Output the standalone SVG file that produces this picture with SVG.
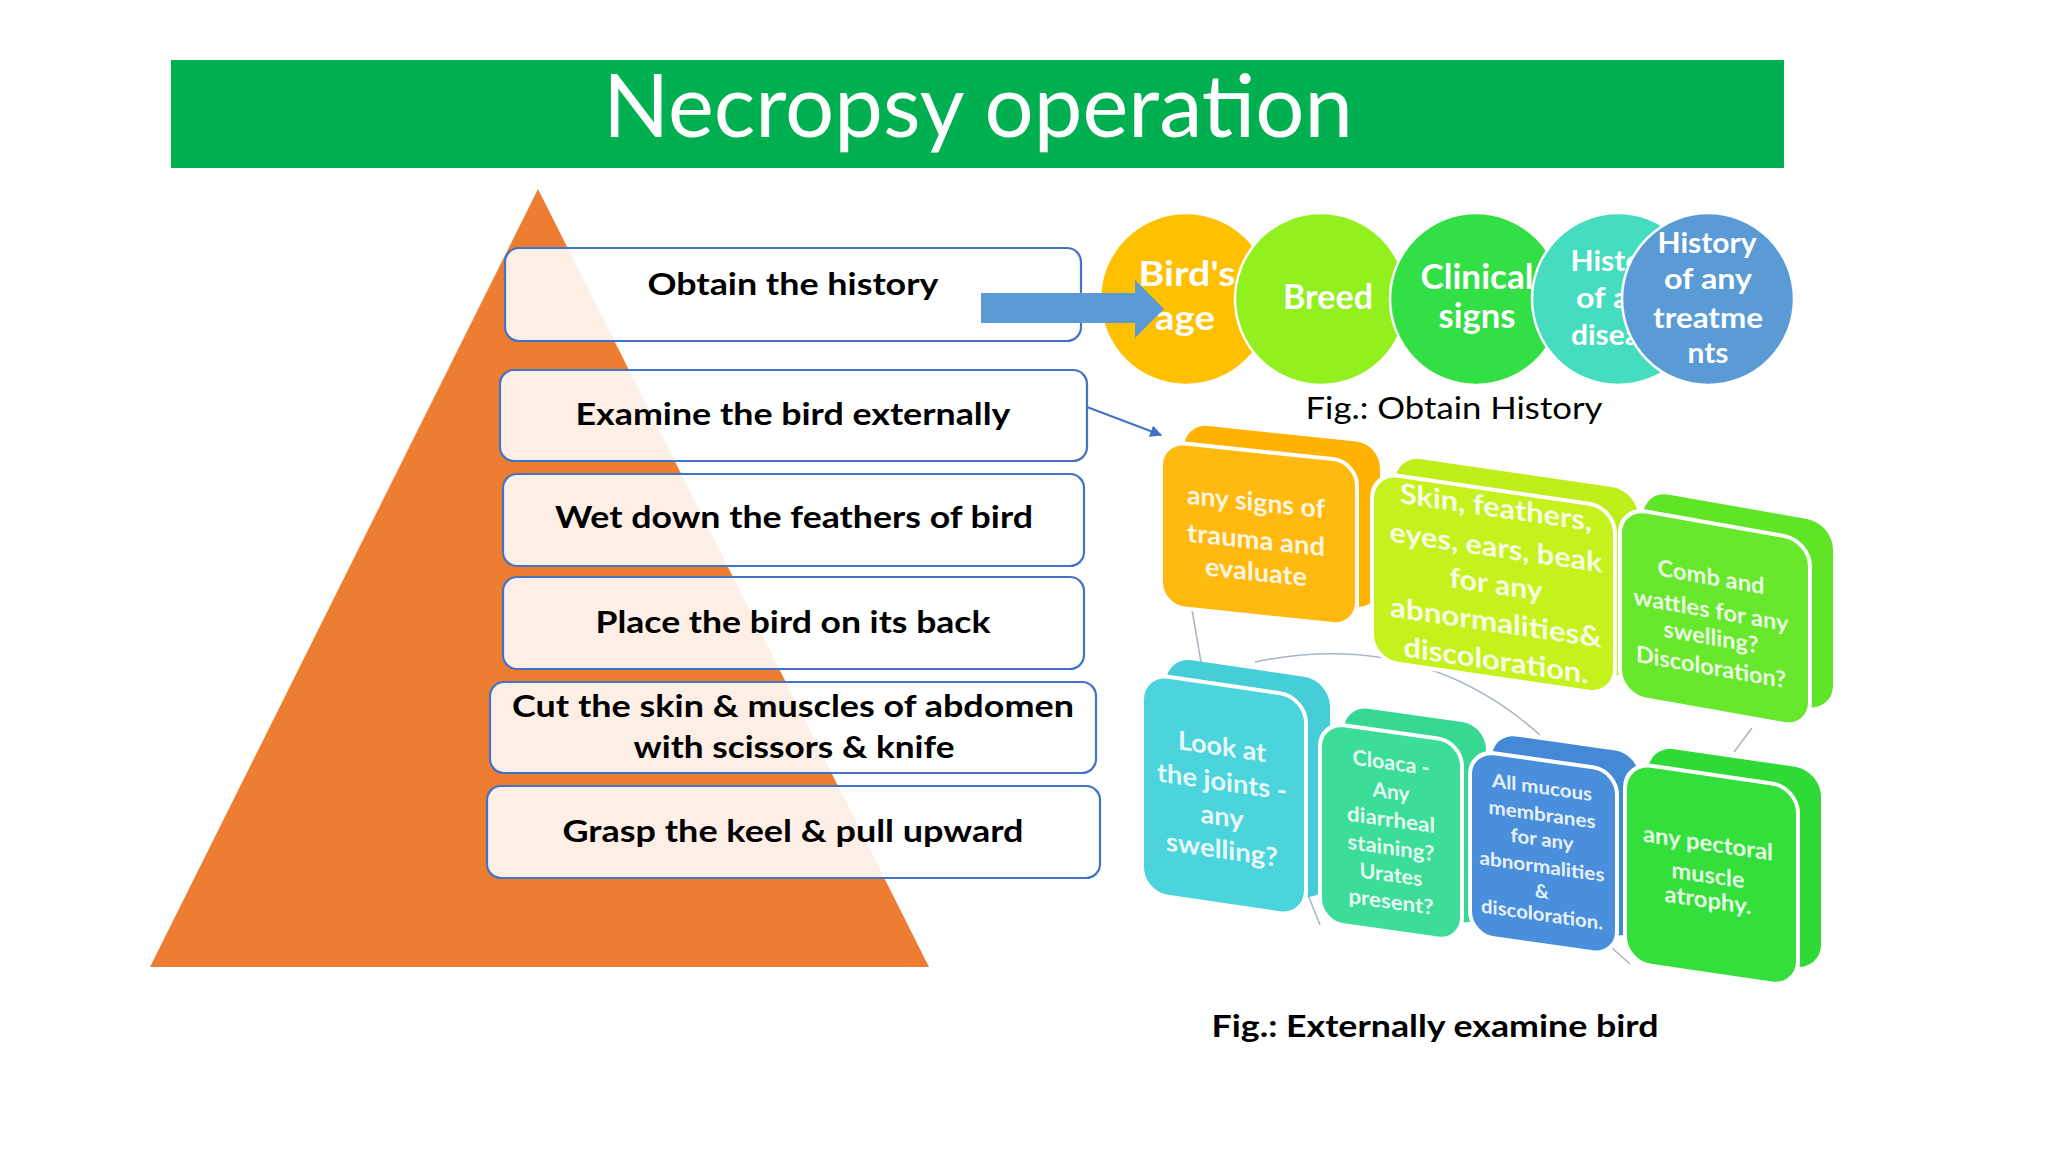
<svg xmlns="http://www.w3.org/2000/svg" width="2048" height="1152" viewBox="0 0 2048 1152">
<style>
.f{font-family:Lato,"Liberation Sans",sans-serif}
.box{fill:#fff;fill-opacity:.88;stroke:#4472C4;stroke-width:2.2}
.bt{font-family:Lato,"Liberation Sans",sans-serif;font-weight:700;font-size:31px;fill:#000;text-anchor:middle}
.ct{font-family:Lato,"Liberation Sans",sans-serif;font-weight:700;fill:#fff;text-anchor:middle}
.circ{stroke:#fff;stroke-width:2.5}
.front{stroke:#fff;stroke-width:4}
.tt{font-family:Lato,"Liberation Sans",sans-serif;font-weight:700;fill:#fff;fill-opacity:.9;text-anchor:middle}
.faint{fill:none;stroke:#A9B4C4;stroke-width:1.5}
</style>
<defs>
<marker id="ah" viewBox="0 0 10 10" refX="9" refY="5" markerWidth="6" markerHeight="6" orient="auto" markerUnits="strokeWidth">
<path d="M0,0 L10,5 L0,10 Z" fill="#4472C4"/>
</marker>
</defs>
<rect width="2048" height="1152" fill="#fff"/>

<g id="title">
<rect x="171" y="60" width="1613" height="108" fill="#00B050"/>
<text class="f" x="978" y="137" font-size="88" fill="#fff" text-anchor="middle" textLength="750" lengthAdjust="spacingAndGlyphs">Necropsy operation</text>
</g>

<g id="pyramid">
<polygon points="538,189 929,967 150,967" fill="#ED7D31"/>
</g>

<g id="step1"><rect class="box" x="505" y="248" width="576" height="93" rx="14"/><text class="bt" x="793" y="295" textLength="291" lengthAdjust="spacingAndGlyphs">Obtain the history</text></g>
<g id="step2"><rect class="box" x="500" y="370" width="587" height="91" rx="14"/><text class="bt" x="793" y="425" textLength="435" lengthAdjust="spacingAndGlyphs">Examine the bird externally</text></g>
<g id="step3"><rect class="box" x="503" y="474" width="581" height="92" rx="14"/><text class="bt" x="794" y="528" textLength="478" lengthAdjust="spacingAndGlyphs">Wet down the feathers of bird</text></g>
<g id="step4"><rect class="box" x="503" y="577" width="581" height="92" rx="14"/><text class="bt" x="793" y="633" textLength="395" lengthAdjust="spacingAndGlyphs">Place the bird on its back</text></g>
<g id="step5"><rect class="box" x="490" y="682" width="606" height="91" rx="14"/><text class="bt" x="793" y="717" textLength="562" lengthAdjust="spacingAndGlyphs">Cut the skin &amp; muscles of abdomen</text><text class="bt" x="794" y="758" textLength="321" lengthAdjust="spacingAndGlyphs">with scissors &amp; knife</text></g>
<g id="step6"><rect class="box" x="487" y="786" width="613" height="92" rx="14"/><text class="bt" x="793" y="842" textLength="461" lengthAdjust="spacingAndGlyphs">Grasp the keel &amp; pull upward</text></g>

<g id="history-circles">
<g id="c-age"><circle class="circ" cx="1186" cy="299" r="86" fill="#FFC000"/><text class="ct" x="1187" y="286" font-size="34" textLength="97" lengthAdjust="spacingAndGlyphs">Bird's</text><text class="ct" x="1185" y="330" font-size="34" textLength="60" lengthAdjust="spacingAndGlyphs">age</text></g>
<g id="c-breed"><circle class="circ" cx="1321" cy="299" r="86" fill="#92F01F"/><text class="ct" x="1328" y="309" font-size="34" textLength="90" lengthAdjust="spacingAndGlyphs">Breed</text></g>
<g id="c-clinical"><circle class="circ" cx="1476" cy="299" r="86" fill="#32E046"/><text class="ct" x="1477" y="289" font-size="34" textLength="113" lengthAdjust="spacingAndGlyphs">Clinical</text><text class="ct" x="1477" y="328" font-size="34" textLength="77" lengthAdjust="spacingAndGlyphs">signs</text></g>
<g id="c-disease"><circle class="circ" cx="1618" cy="299" r="86" fill="#46DCC0"/><text class="ct" x="1620" y="271" font-size="29" textLength="99" lengthAdjust="spacingAndGlyphs">History</text><text class="ct" x="1620" y="308" font-size="29" textLength="88" lengthAdjust="spacingAndGlyphs">of any</text><text class="ct" x="1620" y="345" font-size="29" textLength="98" lengthAdjust="spacingAndGlyphs">disease</text></g>
<g id="c-treatments"><circle class="circ" cx="1708" cy="299" r="86" fill="#5B9BD5"/><text class="ct" x="1707" y="253" font-size="29" textLength="99" lengthAdjust="spacingAndGlyphs">History</text><text class="ct" x="1708" y="289" font-size="29" textLength="88" lengthAdjust="spacingAndGlyphs">of any</text><text class="ct" x="1708" y="328" font-size="29" textLength="110" lengthAdjust="spacingAndGlyphs">treatme</text><text class="ct" x="1708" y="363" font-size="29" textLength="41" lengthAdjust="spacingAndGlyphs">nts</text></g>
</g>
<text id="cap-history" class="f" x="1454" y="419" font-size="31" fill="#000" text-anchor="middle" textLength="297" lengthAdjust="spacingAndGlyphs">Fig.: Obtain History</text>

<g id="fig-external">
<g id="fig-lines">
<path class="faint" d="M1255,662 Q1420,628 1540,735"/>
<path class="faint" d="M1190,598 L1202,668"/>
<path class="faint" d="M1752,728 L1734,752"/>
<path class="faint" d="M1308,895 L1320,925"/>
<path class="faint" d="M1612,948 L1630,964"/>
</g>
<g id="tile-trauma" transform="translate(1161,441) skewY(6)">
<rect x="23" y="-20" width="196" height="165" rx="24" fill="#FFB300"/>
<rect class="front" x="0" y="0" width="196" height="165" rx="24" fill="#FFB90F"/>
<text class="tt" font-size="26"><tspan x="95" y="60" textLength="138" lengthAdjust="spacingAndGlyphs">any signs of</tspan><tspan x="95" y="98" textLength="138" lengthAdjust="spacingAndGlyphs">trauma and</tspan><tspan x="95" y="130" textLength="102" lengthAdjust="spacingAndGlyphs">evaluate</tspan></text>
</g>
<g id="tile-skin" transform="translate(1372,472) skewY(8.3)">
<rect x="23" y="-20" width="243" height="188" rx="26" fill="#BFEE1A"/>
<rect class="front" x="0" y="0" width="243" height="188" rx="26" fill="#C5F21C"/>
<text class="tt" font-size="28"><tspan x="124" y="27" textLength="192" lengthAdjust="spacingAndGlyphs">Skin, feathers,</tspan><tspan x="124" y="67" textLength="213" lengthAdjust="spacingAndGlyphs">eyes, ears, beak</tspan><tspan x="124" y="104" textLength="93" lengthAdjust="spacingAndGlyphs">for any</tspan><tspan x="124" y="142" textLength="212" lengthAdjust="spacingAndGlyphs">abnormalities&amp;</tspan><tspan x="124" y="180" textLength="185" lengthAdjust="spacingAndGlyphs">discoloration.</tspan></text>
</g>
<g id="tile-comb" transform="translate(1620,507) skewY(10)">
<rect x="23" y="-21" width="190" height="188" rx="26" fill="#60E426"/>
<rect class="front" x="0" y="0" width="190" height="188" rx="26" fill="#68E82C"/>
<text class="tt" font-size="23"><tspan x="91" y="62" textLength="107" lengthAdjust="spacingAndGlyphs">Comb and</tspan><tspan x="91" y="95" textLength="155" lengthAdjust="spacingAndGlyphs">wattles for any</tspan><tspan x="91" y="122" textLength="95" lengthAdjust="spacingAndGlyphs">swelling?</tspan><tspan x="91" y="152" textLength="150" lengthAdjust="spacingAndGlyphs">Discoloration?</tspan></text>
</g>
<g id="tile-joints" transform="translate(1142,673) skewY(8.3)">
<rect x="24" y="-20" width="164" height="220" rx="26" fill="#46CED8"/>
<rect class="front" x="0" y="0" width="164" height="220" rx="26" fill="#4CD4DC"/>
<text class="tt" font-size="26"><tspan x="80" y="71" textLength="88" lengthAdjust="spacingAndGlyphs">Look at</tspan><tspan x="80" y="106" textLength="130" lengthAdjust="spacingAndGlyphs">the joints -</tspan><tspan x="80" y="141" textLength="43" lengthAdjust="spacingAndGlyphs">any</tspan><tspan x="80" y="174" textLength="112" lengthAdjust="spacingAndGlyphs">swelling?</tspan></text>
</g>
<g id="tile-cloaca" transform="translate(1320,722) skewY(8)">
<rect x="24" y="-20" width="142" height="200" rx="24" fill="#36D892"/>
<rect class="front" x="0" y="0" width="142" height="200" rx="24" fill="#3CDD98"/>
<text class="tt" font-size="21"><tspan x="71" y="38" textLength="77" lengthAdjust="spacingAndGlyphs">Cloaca -</tspan><tspan x="71" y="67" textLength="37" lengthAdjust="spacingAndGlyphs">Any</tspan><tspan x="71" y="95" textLength="88" lengthAdjust="spacingAndGlyphs">diarrheal</tspan><tspan x="71" y="123" textLength="87" lengthAdjust="spacingAndGlyphs">staining?</tspan><tspan x="71" y="150" textLength="63" lengthAdjust="spacingAndGlyphs">Urates</tspan><tspan x="71" y="177" textLength="85" lengthAdjust="spacingAndGlyphs">present?</tspan></text>
</g>
<g id="tile-mucous" transform="translate(1470,750) skewY(8)">
<rect x="22" y="-20" width="147" height="185" rx="24" fill="#4489D6"/>
<rect class="front" x="0" y="0" width="147" height="185" rx="24" fill="#4A8FDB"/>
<text class="tt" font-size="19"><tspan x="72" y="34" textLength="100" lengthAdjust="spacingAndGlyphs">All mucous</tspan><tspan x="72" y="61" textLength="107" lengthAdjust="spacingAndGlyphs">membranes</tspan><tspan x="72" y="86" textLength="63" lengthAdjust="spacingAndGlyphs">for any</tspan><tspan x="72" y="113" textLength="125" lengthAdjust="spacingAndGlyphs">abnormalities</tspan><tspan x="72" y="138">&amp;</tspan><tspan x="72" y="161" textLength="122" lengthAdjust="spacingAndGlyphs">discoloration.</tspan></text>
</g>
<g id="tile-pectoral" transform="translate(1625,762) skewY(8.3)">
<rect x="23" y="-20" width="173" height="200" rx="26" fill="#30DA36"/>
<rect class="front" x="0" y="0" width="173" height="200" rx="26" fill="#35DF3B"/>
<text class="tt" font-size="23"><tspan x="83" y="77" textLength="130" lengthAdjust="spacingAndGlyphs">any pectoral</tspan><tspan x="83" y="109" textLength="73" lengthAdjust="spacingAndGlyphs">muscle</tspan><tspan x="83" y="134" textLength="87" lengthAdjust="spacingAndGlyphs">atrophy.</tspan></text>
</g>
</g>
<text id="cap-external" class="f" x="1435" y="1037" font-size="31" font-weight="700" fill="#000" text-anchor="middle" textLength="447" lengthAdjust="spacingAndGlyphs">Fig.: Externally examine bird</text>

<g id="connectors">
<polygon points="981,293 1135,293 1135,280 1164,309 1135,338 1135,323 981,323" fill="#5B9BD5"/>
<line x1="1087" y1="407" x2="1161" y2="435" stroke="#4472C4" stroke-width="2" marker-end="url(#ah)"/>
</g>
</svg>
